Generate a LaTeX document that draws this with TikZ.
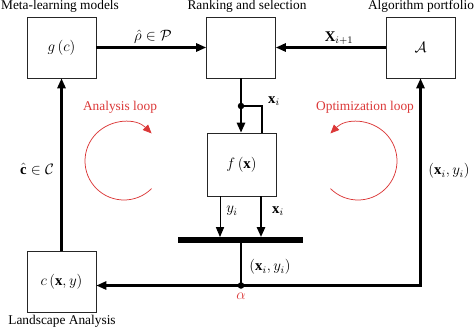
\documentclass[tikz,border=0pt]{standalone}
\usepackage{fontspec}
\setmainfont{Liberation Serif}
\usetikzlibrary{arrows.meta,calc}
\definecolor{loopred}{rgb}{0.86,0.22,0.22}
\begin{document}
\begin{tikzpicture}[x=0.8pt,y=-0.8pt,
  every node/.style={font=\fontsize{10.7}{12}\selectfont},
  mathfont/.style={font=\fontsize{11.8}{13}\selectfont},
  box/.style={draw=black!85,line width=0.6pt,minimum width=55.2pt,minimum height=48.8pt,inner sep=0pt,mathfont},
  thickline/.style={line width=1.7pt},
  medline/.style={line width=1.2pt},
  thinline/.style={line width=0.7pt},
  tip/.style={-{Triangle[length=8pt,width=6.6pt]}},
  lbl/.style={inner sep=1pt},
  mlbl/.style={inner sep=1pt,mathfont},
  looplbl/.style={text=loopred,inner sep=1pt},
  looparc/.style={draw=loopred,line width=0.6pt,-{Triangle[length=7pt,width=6pt]}}
]
\useasboundingbox (0,0) rectangle (474,329);
% boxes
\node[box] (g) at (61.5,47.5) {$g\left(c\right)$};
\node[box] (rank) at (241,47.5) {};
\node[box] (A) at (420.5,47.5) {$\mathcal{A}$};
\node[box,minimum height=50.4pt] (f) at (241.5,164.5) {$f\left(\mathbf{x}\right)$};
\node[box] (c) at (61.5,281.5) {$c\left(\mathbf{x},y\right)$};
\node[fill=black,minimum width=100pt,minimum height=4.4pt,inner sep=0pt] (bar) at (240.5,240) {};
% titles
\node[lbl] (t1) at (60,6) {Meta-learning models};
\node[lbl] (t2) at (247,6) {Ranking and selection};
\node[lbl] (t3) at (421,6) {Algorithm portfolio};
\node[lbl] (t4) at (62,321) {Landscape Analysis};
% coordinates
\coordinate (d) at (241,106);
\coordinate (br) at (262,106);
\coordinate (yc) at (220,240);
\coordinate (xc) at (261,240);
\coordinate (al) at (241,285.5);
% top arrows
\draw[thickline,tip] (g) -- (rank);
\draw[thickline,tip] (A) -- (rank);
\node[mlbl] (rho) at (153,37) {$\hat{\rho}\in\mathcal{P}$};
\node[mlbl] (X) at (339,38) {$\mathbf{X}_{i+1}$};
% ranking to f
\draw[thickline] (rank.south -| d) -- (d);
\draw[thickline,tip] (d) -- (d |- f.north);
\draw[medline] (d) -- (br) -- (br |- f.north);
\fill (d) circle (2.6pt);
\node[mlbl] (xi1) at (274,101) {$\mathbf{x}_i$};
% f to bar
\draw[thinline,tip] (f.south -| yc) -- (bar.north -| yc);
\draw[thickline,tip] (f.south -| xc) -- (bar.north -| xc);
\node[mlbl] (yi) at (232,211) {$y_i$};
\node[mlbl] (xi2) at (278,211) {$\mathbf{x}_i$};
% bar to alpha
\draw[medline] (bar.south -| al) -- (al);
\node[mlbl] (xy1) at (270,267) {$\left(\mathbf{x}_i,y_i\right)$};
\draw[thickline,tip] (al) -- (c.east |- al);
\draw[thickline,tip] (al) -| (A.south);
\fill (al) circle (2.6pt);
\node[looplbl,mathfont] (alpha) at (241,296.5) {$\alpha$};
\node[mlbl] (xy2) at (449,171) {$\left(\mathbf{x}_i,y_i\right)$};
% c to g
\draw[thickline,tip] (c) -- (g);
\node[mlbl] (chat) at (37,169) {$\hat{\mathbf{c}}\in\mathcal{C}$};
% loops
\node[looplbl] (al1) at (120,107) {Analysis loop};
\node[looplbl] (ol1) at (365,107) {Optimization loop};
\draw[looparc] ($(124,161)+(-45:31.2pt)$) arc[start angle=-45,end angle=-315,radius=31.2pt];
\draw[looparc] ($(358,161)+(225:31.2pt)$) arc[start angle=225,end angle=495,radius=31.2pt];
\end{tikzpicture}
\end{document}
